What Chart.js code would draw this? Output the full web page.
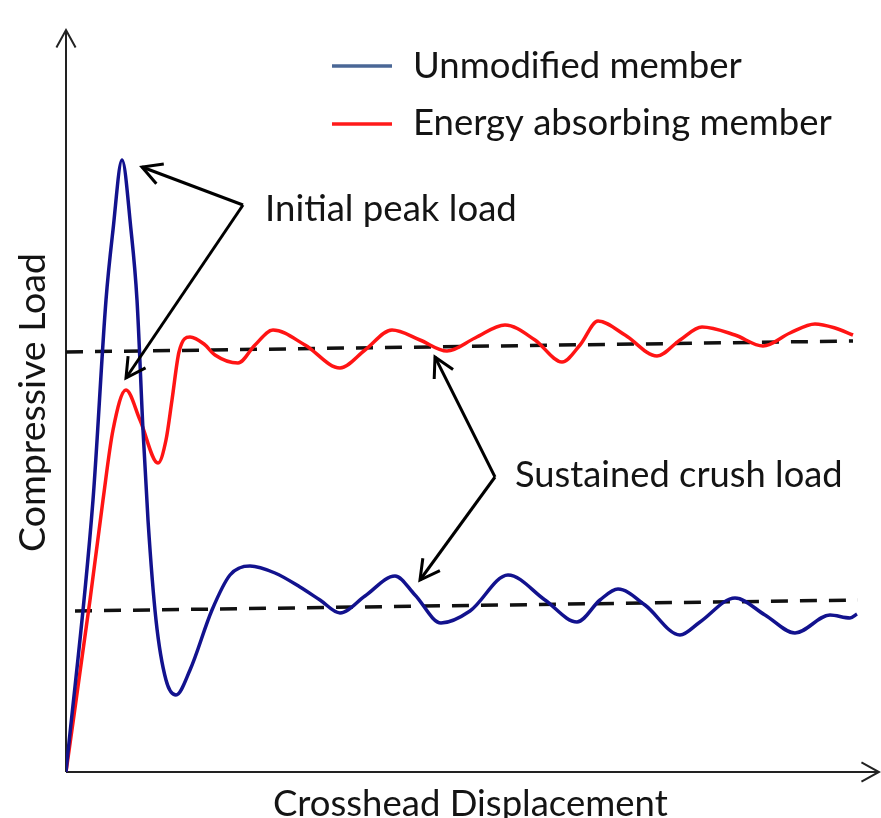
<!DOCTYPE html>
<html>
<head>
<meta charset="utf-8">
<script src="https://cdn.jsdelivr.net/npm/chart.js@4.4.1/dist/chart.umd.min.js"></script>
<style>
  html, body { margin: 0; padding: 0; background: #fff; }
  #wrap { width: 881px; height: 818px; }
</style>
</head>
<body>
<div id="wrap"><canvas id="crush-chart"></canvas></div>
<script>
// series labels and values (x = displacement, y = load)
const seriesLabels = ['Unmodified member', 'Energy absorbing member'];
const axisTitles = ['Crosshead Displacement', 'Compressive Load'];
const noteLabels = ['Initial peak load', 'Sustained crush load'];

const unmodifiedX = [0, 27, 40, 47, 56, 65, 71, 77, 82, 90, 100, 110, 124, 146, 164, 184, 209, 234, 254, 274,
  299, 329, 349, 375, 404, 442, 479, 511, 534, 552, 579, 614, 634, 669, 699, 729, 764, 784, 791];
const unmodifiedY = [0, 272, 472, 542, 612, 542, 472, 342, 252, 152, 92, 77, 102, 162, 197, 206, 199, 185, 172, 159,
  176, 196, 177, 149, 161, 197, 172, 150, 172, 183, 167, 137, 150, 174, 157, 139, 157, 154, 158];

const absorbingX = [0, 24, 37, 47, 60, 74, 92, 100, 106, 113, 124, 138, 149, 172, 189, 207, 239, 274, 299, 326, 354,
  381, 409, 439, 469, 496, 514, 532, 559, 591, 614, 636, 669, 697, 724, 749, 769, 787];
const absorbingY = [0, 172, 272, 342, 382, 352, 309, 332, 372, 420, 435, 428, 417, 409, 427, 442, 427, 404, 422, 442, 432,
  421, 434, 447, 432, 410, 427, 451, 437, 416, 432, 445, 437, 426, 439, 448, 444, 437];

// sustained crush load levels (dashed)
const absorbingLevelX = [0, 787];
const absorbingLevelY = [420, 431];
const unmodifiedLevelX = [9, 792];
const unmodifiedLevelY = [161, 172];

const xRange = [0, 814];
const yRange = [0, 742];

function toPoints(xs, ys) {
    return xs.map((x, i) => ({ x: x, y: ys[i] }));
}

const FONT = 'Lato';
const TEXT_COLOR = '#141414';

// pick a font size so the text spans the given width
function fitFont(ctx, text, width) {
    ctx.font = '100px ' + FONT;
    const size = 100 * width / ctx.measureText(text).width;
    return size.toFixed(1) + 'px ' + FONT;
}

function drawArrow(ctx, x1, y1, x2, y2, head) {
    const ang = Math.atan2(y2 - y1, x2 - x1);
    ctx.beginPath();
    ctx.moveTo(x1, y1);
    ctx.lineTo(x2, y2);
    ctx.stroke();
    ctx.beginPath();
    ctx.moveTo(x2 - head * Math.cos(ang - 0.5), y2 - head * Math.sin(ang - 0.5));
    ctx.lineTo(x2, y2);
    ctx.lineTo(x2 - head * Math.cos(ang + 0.5), y2 - head * Math.sin(ang + 0.5));
    ctx.stroke();
}

// axes with arrowheads, drawn under the curves
const axesPlugin = {
    id: 'axesPlugin',
    beforeDatasetsDraw(chart) {
        const ctx = chart.ctx;
        const a = chart.chartArea;
        ctx.save();
        ctx.strokeStyle = '#222';
        ctx.lineWidth = 2;
        drawArrow(ctx, a.left, a.bottom, a.left, a.top, 20);
        drawArrow(ctx, a.left, a.bottom, a.right - 1, a.bottom, 20);

        ctx.fillStyle = TEXT_COLOR;
        ctx.textBaseline = 'alphabetic';
        ctx.textAlign = 'left';
        // x title
        ctx.font = fitFont(ctx, axisTitles[0], 395);
        ctx.fillText(axisTitles[0], 273, 816);
        // y title
        ctx.save();
        ctx.translate(45, 552);
        ctx.rotate(-Math.PI / 2);
        ctx.font = fitFont(ctx, axisTitles[1], 299);
        ctx.fillText(axisTitles[1], 0, 0);
        ctx.restore();
        ctx.restore();
    }
};

// legend and callouts
const notesPlugin = {
    id: 'notesPlugin',
    afterDatasetsDraw(chart) {
        const ctx = chart.ctx;
        const xs = chart.scales.x, ys = chart.scales.y;
        const X = v => xs.getPixelForValue(v);
        const Y = v => ys.getPixelForValue(v);
        ctx.save();

        // legend
        const legendRows = [66, 124];
        chart.data.datasets.slice(0, 2).forEach((ds, i) => {
            ctx.strokeStyle = ds.legendColor;
            ctx.lineWidth = 3.5;
            ctx.beginPath();
            ctx.moveTo(332, legendRows[i]);
            ctx.lineTo(392, legendRows[i]);
            ctx.stroke();
        });
        ctx.fillStyle = TEXT_COLOR;
        ctx.textAlign = 'left';
        ctx.textBaseline = 'alphabetic';
        ctx.font = fitFont(ctx, seriesLabels[0], 329);
        ctx.fillText(seriesLabels[0], 413, 78);
        ctx.font = fitFont(ctx, seriesLabels[1], 419);
        ctx.fillText(seriesLabels[1], 413, 135);

        // callout text
        ctx.font = fitFont(ctx, noteLabels[0], 252);
        ctx.fillText(noteLabels[0], X(199), Y(551));
        ctx.font = fitFont(ctx, noteLabels[1], 328);
        ctx.fillText(noteLabels[1], X(449), Y(285));

        // callout arrows
        ctx.strokeStyle = '#000';
        ctx.lineWidth = 3;
        ctx.lineJoin = 'miter';
        drawArrow(ctx, X(177), Y(567), X(76), Y(605), 22);
        drawArrow(ctx, X(177), Y(567), X(60), Y(394), 22);
        drawArrow(ctx, X(429), Y(295), X(369), Y(415), 22);
        drawArrow(ctx, X(429), Y(295), X(354), Y(192), 22);
        ctx.restore();
    }
};

const ctx = document.getElementById('crush-chart').getContext('2d');
new Chart(ctx, {
    type: 'line',
    data: {
        datasets: [
            {
                label: seriesLabels[0],
                data: toPoints(unmodifiedX, unmodifiedY),
                borderColor: '#12128e',
                legendColor: '#4a6796',
                borderWidth: 3.5,
                pointRadius: 0,
                cubicInterpolationMode: 'monotone'
            },
            {
                label: seriesLabels[1],
                data: toPoints(absorbingX, absorbingY),
                borderColor: '#ff1414',
                legendColor: '#ff1a1a',
                borderWidth: 3.5,
                pointRadius: 0,
                cubicInterpolationMode: 'monotone'
            },
            {
                label: 'absorbing level',
                data: toPoints(absorbingLevelX, absorbingLevelY),
                borderColor: '#111',
                borderWidth: 3.5,
                borderDash: [17, 12],
                pointRadius: 0
            },
            {
                label: 'unmodified level',
                data: toPoints(unmodifiedLevelX, unmodifiedLevelY),
                borderColor: '#111',
                borderWidth: 3.5,
                borderDash: [17, 12],
                pointRadius: 0
            }
        ]
    },
    options: {
        responsive: true,
        maintainAspectRatio: false,
        animation: false,
        layout: { padding: { left: 66, right: 1, top: 30, bottom: 46 } },
        scales: {
            x: { type: 'linear', display: false, min: xRange[0], max: xRange[1] },
            y: { type: 'linear', display: false, min: yRange[0], max: yRange[1] }
        },
        plugins: {
            legend: { display: false },
            tooltip: { enabled: false }
        }
    },
    plugins: [axesPlugin, notesPlugin]
});
</script>
</body>
</html>
